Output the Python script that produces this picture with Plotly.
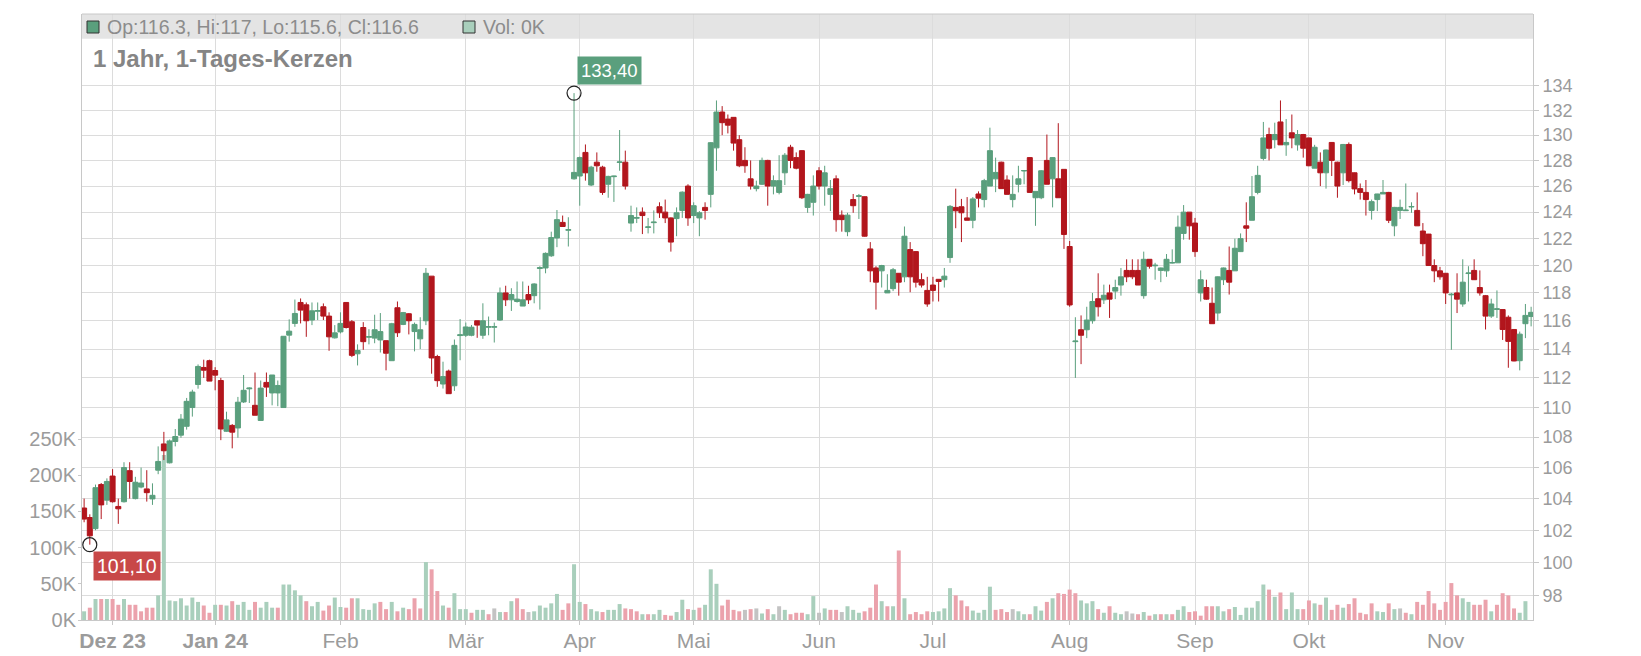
import math
import plotly.graph_objects as go

# ---------------- data ----------------
open_ = [103.4, 102.8, 102.1, 104.9, 103.9, 105.45, 103.5, 103.8, 105.8, 104.0,
         104.74, 104.62, 103.98, 105.83, 107.55, 106.31, 107.71, 108.13, 108.72, 109.98,
         111.55, 112.72, 113.19, 112.51, 111.82, 108.39, 108.78, 108.61, 110.36, 111.25,
         110.13, 109.11, 111.69, 110.97, 110.97, 109.98, 114.98, 115.81, 117.31, 117.14,
         116.05, 116.68, 117.0, 116.33, 114.79, 115.21, 117.31, 115.93, 113.67, 115.52,
         114.83, 114.77, 114.64, 114.59, 113.19, 116.93, 115.74, 116.5, 115.23, 114.72,
         116.0, 119.22, 113.48, 111.58, 112.47, 111.46, 114.95, 114.97, 114.97, 116.0,
         114.97, 115.54, 115.54, 116.05, 118.0, 117.5, 117.38, 117.05, 117.88, 117.8,
         119.78, 119.82, 120.72, 122.05, 123.22, 122.63, 126.56, 126.78, 128.63, 126.08,
         127.86, 127.47, 126.14, 126.73, 127.84, 127.86, 123.17, 123.54, 124.0, 122.84,
         123.2, 124.41, 124.0, 123.56, 123.51, 124.13, 126.0, 123.74, 123.56, 124.36,
         125.36, 128.99, 131.86, 131.29, 131.43, 129.64, 128.0, 126.56, 125.8, 126.14,
         128.0, 126.0, 125.51, 127.03, 129.04, 128.22, 128.77, 124.36, 124.75, 127.19,
         126.0, 125.36, 126.56, 123.77, 122.52, 124.96, 125.2, 125.18, 121.23, 119.82,
         119.61, 118.0, 118.31, 119.43, 119.17, 121.18, 121.03, 118.96, 118.18, 118.57,
         118.99, 118.96, 120.59, 124.36, 124.41, 123.56, 123.38, 125.39, 124.96, 126.0,
         126.56, 127.86, 126.47, 124.96, 126.14, 127.17, 128.22, 125.1, 125.1, 128.0,
         126.56, 126.56, 127.3, 121.41, 114.52, 115.36, 115.36, 116.0, 117.58, 117.5,
         118.0, 118.13, 118.57, 119.64, 119.64, 119.64, 117.8, 120.46, 119.98, 119.64,
         119.61, 120.18, 120.2, 122.39, 124.0, 123.17, 118.0, 118.39, 117.25, 116.55,
         118.96, 119.64, 119.61, 121.03, 122.96, 123.38, 125.51, 128.16, 130.05, 129.64,
         131.06, 129.23, 130.19, 129.23, 130.05, 129.78, 127.39, 127.86, 127.03, 129.42,
         127.86, 127.03, 129.26, 127.03, 125.8, 125.51, 124.13, 124.96, 125.39, 125.51,
         122.96, 124.13, 124.11, 124.39, 124.13, 122.57, 122.34, 120.0, 119.61, 119.43,
         117.86, 118.0, 117.2, 119.41, 119.64, 118.39, 117.8, 116.33, 116.81, 116.8,
         116.25, 115.38, 113.19, 115.79, 116.3]

high = [104.0, 103.0, 104.9, 105.0, 105.3, 105.9, 104.0, 106.35, 106.35, 105.4,
        106.0, 105.83, 104.98, 107.39, 108.35, 107.84, 108.54, 109.54, 110.63, 111.19,
        112.93, 113.26, 113.26, 112.74, 112.0, 109.7, 108.87, 110.7, 112.2, 111.35,
        112.37, 111.82, 112.37, 112.2, 111.82, 114.9, 116.1, 117.52, 117.6, 117.31,
        117.31, 117.31, 117.24, 116.6, 115.69, 116.6, 117.31, 116.05, 114.33, 115.9,
        115.4, 116.43, 116.55, 114.59, 115.85, 117.38, 116.63, 116.55, 115.87, 116.25,
        119.82, 119.22, 113.6, 113.12, 112.57, 114.67, 116.12, 115.87, 115.7, 116.0,
        117.25, 116.3, 115.87, 118.39, 118.52, 118.34, 118.83, 118.83, 118.52, 118.7,
        119.95, 120.97, 122.52, 124.16, 123.74, 123.61, 133.4, 128.3, 129.26, 127.58,
        128.63, 127.58, 126.8, 126.8, 130.41, 128.77, 124.49, 124.36, 124.36, 123.56,
        124.13, 124.75, 124.96, 123.6, 124.36, 125.59, 126.14, 124.75, 124.08, 124.75,
        129.45, 132.8, 132.34, 131.66, 131.45, 130.0, 129.04, 128.0, 126.42, 128.22,
        128.05, 126.83, 128.41, 128.58, 129.23, 128.63, 128.8, 125.4, 126.83, 127.47,
        127.58, 126.47, 126.83, 124.13, 123.95, 125.39, 125.39, 125.2, 121.74, 119.95,
        120.05, 119.36, 119.82, 119.45, 122.91, 121.74, 121.05, 119.43, 119.17, 119.17,
        119.0, 119.82, 124.54, 125.8, 125.01, 125.15, 125.15, 125.59, 126.56, 130.6,
        128.22, 127.9, 126.83, 126.83, 127.58, 127.25, 128.25, 125.6, 127.25, 130.05,
        128.25, 130.96, 127.3, 121.82, 116.25, 116.38, 117.0, 118.0, 119.43, 118.6,
        118.6, 118.96, 119.82, 120.46, 120.46, 120.46, 121.03, 120.46, 120.2, 119.85,
        120.85, 121.2, 123.74, 124.54, 124.0, 123.56, 119.64, 118.96, 118.39, 119.2,
        119.85, 121.41, 122.0, 122.39, 124.75, 126.78, 127.58, 131.06, 130.6, 131.0,
        132.8, 131.29, 131.66, 130.41, 130.1, 129.8, 129.23, 128.63, 128.85, 129.45,
        127.9, 129.3, 129.42, 127.05, 126.2, 126.47, 124.96, 125.4, 126.47, 125.55,
        124.4, 124.96, 126.2, 124.75, 125.51, 123.17, 122.35, 120.46, 119.9, 119.45,
        118.0, 119.43, 120.46, 119.95, 120.46, 119.64, 117.85, 117.58, 118.18, 116.8,
        116.38, 115.4, 115.23, 117.2, 117.0]

low = [102.5, 101.1, 102.0, 102.7, 103.6, 103.75, 102.4, 103.75, 104.0, 103.95,
       104.66, 103.81, 103.6, 105.57, 106.49, 106.27, 107.39, 107.96, 108.5, 109.37,
       111.26, 112.0, 111.78, 111.15, 107.8, 108.35, 107.26, 107.96, 110.29, 110.29,
       109.46, 109.11, 110.7, 110.13, 110.07, 109.98, 114.52, 115.57, 115.81, 114.86,
       115.69, 116.05, 116.05, 113.88, 114.74, 115.1, 115.45, 113.44, 112.86, 113.95,
       114.33, 114.41, 113.76, 112.52, 113.19, 114.85, 115.69, 115.03, 113.84, 114.0,
       115.69, 112.29, 111.39, 111.27, 110.92, 111.11, 113.22, 114.85, 114.9, 114.79,
       114.72, 114.97, 114.46, 116.0, 117.05, 116.7, 117.3, 117.05, 117.2, 117.25,
       116.8, 119.43, 120.64, 121.36, 122.91, 121.41, 126.5, 124.49, 126.42, 126.0,
       127.11, 125.32, 125.1, 124.78, 127.19, 125.73, 122.52, 123.17, 122.34, 122.39,
       122.39, 123.56, 123.17, 121.03, 122.18, 123.56, 122.96, 123.17, 122.18, 123.43,
       124.36, 127.19, 130.0, 130.14, 128.77, 127.47, 127.03, 125.73, 125.59, 126.08,
       124.49, 125.36, 125.36, 126.08, 127.39, 127.3, 125.0, 123.95, 123.74, 125.73,
       124.49, 124.08, 122.52, 122.52, 122.18, 123.95, 123.48, 122.15, 118.78, 116.8,
       118.39, 118.0, 118.13, 117.8, 118.78, 118.05, 118.39, 118.39, 117.0, 117.38,
       117.38, 118.39, 120.2, 122.78, 121.74, 123.38, 122.78, 124.36, 124.36, 126.0,
       125.53, 125.8, 125.36, 124.36, 125.51, 126.14, 125.5, 122.96, 124.99, 126.14,
       124.36, 125.1, 121.23, 117.0, 112.0, 112.95, 114.77, 115.79, 116.3, 117.2,
       116.2, 117.55, 117.8, 118.78, 119.0, 118.57, 117.58, 119.77, 118.96, 118.78,
       119.17, 120.15, 120.2, 121.92, 121.92, 120.64, 117.38, 117.5, 115.79, 116.0,
       118.57, 117.88, 119.6, 121.0, 121.74, 123.38, 125.36, 128.0, 128.0, 128.96,
       129.23, 128.36, 128.96, 128.77, 128.22, 127.55, 127.39, 126.0, 125.8, 126.78,
       125.1, 126.08, 126.28, 125.36, 124.96, 123.74, 123.43, 124.08, 125.39, 123.17,
       122.18, 123.48, 124.1, 123.95, 122.95, 120.69, 120.0, 118.78, 118.96, 117.2,
       113.95, 116.55, 117.0, 117.38, 118.95, 117.8, 115.38, 116.2, 116.2, 114.64,
       112.7, 113.15, 112.52, 114.77, 115.6]

close = [102.7, 101.65, 104.7, 103.6, 105.1, 103.8, 103.35, 106.0, 105.1, 105.05,
         105.0, 104.38, 104.21, 106.4, 107.1, 107.75, 108.04, 109.2, 110.4, 111.03,
         112.79, 112.53, 111.78, 112.19, 108.54, 109.15, 108.33, 110.34, 111.15, 111.3,
         109.46, 111.3, 111.37, 112.2, 111.48, 114.9, 115.26, 116.52, 116.76, 116.0,
         116.71, 116.72, 116.33, 114.86, 115.14, 115.81, 115.52, 113.56, 113.9, 114.52,
         114.88, 115.36, 115.23, 113.71, 115.79, 115.15, 116.58, 116.0, 115.74, 115.36,
         119.43, 113.38, 111.81, 112.09, 110.92, 114.26, 115.0, 115.56, 115.54, 115.69,
         116.0, 115.58, 115.58, 118.0, 117.5, 117.88, 117.55, 117.5, 117.5, 118.65,
         119.84, 120.9, 122.08, 123.43, 122.91, 122.67, 127.06, 128.22, 127.03, 127.47,
         127.58, 125.51, 126.75, 126.77, 127.88, 126.0, 123.74, 123.58, 123.74, 122.88,
         123.24, 123.95, 123.56, 121.74, 123.95, 125.53, 123.56, 124.49, 123.95, 124.13,
         129.4, 131.86, 131.0, 130.8, 129.37, 127.58, 127.58, 126.0, 126.0, 128.0,
         126.0, 126.42, 126.42, 128.41, 128.0, 127.39, 125.1, 125.36, 126.0, 126.0,
         127.03, 125.8, 123.43, 123.43, 123.77, 124.49, 125.25, 122.18, 119.61, 118.78,
         120.0, 118.18, 119.69, 118.78, 122.18, 119.17, 118.78, 118.57, 117.2, 118.18,
         118.83, 119.22, 124.44, 124.1, 123.95, 123.38, 125.01, 125.07, 126.42, 128.77,
         127.06, 125.8, 125.36, 125.36, 126.56, 127.21, 125.51, 125.59, 127.19, 126.14,
         128.22, 125.1, 122.31, 117.13, 114.56, 114.97, 116.05, 117.38, 117.0, 117.83,
         117.55, 118.39, 119.17, 119.17, 119.17, 118.57, 120.46, 119.95, 120.02, 119.82,
         120.46, 120.22, 122.86, 124.0, 122.96, 121.03, 118.96, 117.55, 115.79, 119.17,
         119.82, 118.78, 121.28, 122.0, 122.78, 125.18, 126.83, 129.78, 128.96, 130.05,
         129.23, 129.42, 129.78, 130.05, 128.96, 127.58, 129.04, 127.03, 128.82, 128.0,
         126.0, 129.26, 126.42, 125.78, 125.51, 124.96, 124.8, 125.39, 125.51, 123.38,
         124.36, 124.36, 124.15, 124.43, 122.96, 121.62, 120.0, 119.61, 119.17, 118.0,
         117.9, 117.55, 118.78, 119.45, 118.96, 118.0, 116.33, 117.2, 116.85, 115.38,
         114.54, 113.17, 115.05, 116.38, 116.6]

volume_k = [12, 17, 29, 29, 29, 29, 21, 29, 21, 21, 12, 17, 17, 34, 228, 27, 26, 30, 20, 31,
            25, 20, 10, 21, 21, 20, 26, 21, 25, 14, 25, 17, 25, 17, 17, 49, 49, 41, 34, 26,
            19, 25, 13, 20, 31, 18, 17, 30, 30, 15, 14, 23, 25, 15, 25, 12, 17, 15, 30, 16,
            80, 70, 40, 20, 17, 37, 15, 15, 10, 14, 14, 8, 16, 11, 11, 26, 30, 15, 11, 12,
            20, 17, 23, 36, 14, 23, 77, 25, 22, 15, 12, 11, 14, 14, 22, 16, 15, 12, 8, 8,
            8, 14, 7, 6, 11, 28, 15, 14, 17, 21, 70, 50, 20, 28, 14, 12, 14, 15, 16, 9,
            15, 8, 19, 14, 8, 10, 10, 8, 33, 10, 16, 14, 14, 11, 19, 14, 10, 12, 17, 49,
            26, 19, 19, 96, 30, 8, 11, 8, 12, 11, 12, 16, 44, 34, 27, 19, 13, 10, 14, 46,
            14, 15, 11, 15, 12, 8, 8, 19, 13, 25, 30, 37, 36, 42, 37, 27, 23, 26, 15, 10,
            19, 10, 8, 12, 9, 8, 11, 6, 8, 8, 8, 8, 14, 19, 11, 12, 6, 19, 19, 19,
            12, 15, 18, 7, 17, 17, 26, 49, 42, 32, 38, 15, 38, 15, 15, 27, 23, 21, 31, 14,
            21, 17, 22, 30, 10, 8, 23, 12, 11, 23, 15, 16, 10, 8, 25, 21, 40, 23, 14, 25,
            51, 34, 30, 25, 21, 21, 28, 12, 21, 37, 34, 16, 10, 26, 0]

month_pos = [5, 23, 45, 67, 87, 107, 129, 149, 173, 195, 215, 239]
month_labels = ["<b>Dez 23</b>", "<b>Jan 24</b>", "Feb", "Mär", "Apr", "Mai",
                "Jun", "Jul", "Aug", "Sep", "Okt", "Nov"]
price_ticks = list(range(98, 135, 2))
vol_ticks = [0, 50, 100, 150, 200, 250]
vol_labels = [f"{v}K" for v in vol_ticks]
title_text = "1 Jahr, 1-Tages-Kerzen"

# ---------------- styling ----------------
UP = "#5a9f7d"
DOWN = "#b2161d"
VOL_UP = "#a9cfbc"
VOL_DOWN = "#eba2ac"
VOL_FLAT = "#c3c3c3"
GRID = "#dcdcdc"
TXT = "#9b9b9b"
FONT = "Liberation Sans, Arial, sans-serif"

n = len(close)
idx = list(range(n))

vol_colors = []
for i in range(n):
    if i == 0 or close[i] > close[i - 1]:
        vol_colors.append(VOL_UP)
    elif close[i] < close[i - 1]:
        vol_colors.append(VOL_DOWN)
    else:
        vol_colors.append(VOL_FLAT)

i_hi = max(range(n), key=lambda k: high[k])
i_lo = min(range(n), key=lambda k: low[k])

fig = go.Figure()

fig.add_trace(go.Bar(x=idx, y=volume_k, marker=dict(color=vol_colors, line=dict(width=0)),
                     yaxis="y", hoverinfo="skip", showlegend=False))

fig.add_trace(go.Candlestick(
    x=idx, open=open_, high=high, low=low, close=close, yaxis="y2",
    increasing=dict(line=dict(color=UP, width=1), fillcolor=UP),
    decreasing=dict(line=dict(color=DOWN, width=1), fillcolor=DOWN),
    whiskerwidth=0, showlegend=False))

fig.add_trace(go.Scatter(x=[i_hi, i_lo], y=[high[i_hi], low[i_lo]], yaxis="y2",
                         mode="markers", showlegend=False,
                         marker=dict(symbol="circle-open", size=14,
                                     color="#222222", line=dict(width=1.2))))

W, H = 1641, 656
# intended on-screen plot box
PX0, PX1, PY0, PY1 = 82, 1533, 14, 620
PW, PH = PX1 - PX0, PY1 - PY0
# the page shows the figure 8px right / down of the window corner
OFF = 8
L = PX0 - OFF
R = W + OFF - PX1
T = PY0 - OFF
B = H + OFF - PY1


def px_x(p):
    return (p - PX0) / PW


def px_y(p):
    return (PY1 - p) / PH


y_lo, y_hi = 96.53, 140.04

fig.update_layout(
    width=W, height=H,
    margin=dict(l=L, r=R, t=T, b=B, pad=0, autoexpand=False),
    paper_bgcolor="white", plot_bgcolor="white",
    bargap=0.3, boxgap=0.12, boxgroupgap=0,
    font=dict(family=FONT, color=TXT),
    xaxis=dict(range=[-0.37, n - 0.67], tickvals=month_pos, ticktext=month_labels,
               showgrid=True, gridcolor=GRID, gridwidth=1, zeroline=False,
               showline=True, linecolor="#c8c8c8", linewidth=1,
               ticks="outside", ticklen=4, tickcolor="#c8c8c8", ticklabelstandoff=-2,
               tickfont=dict(size=21, color=TXT), rangeslider=dict(visible=False),
               fixedrange=True, automargin=False),
    yaxis=dict(range=[0, 837], tickvals=vol_ticks, ticktext=vol_labels, side="left",
               showgrid=False, zeroline=False, showline=True, linecolor="#c8c8c8",
               ticks="outside", ticklen=3, tickcolor="#c8c8c8", automargin=False,
               ticklabelstandoff=-2, tickfont=dict(size=20, color=TXT)),
    yaxis2=dict(type="log", range=[math.log10(y_lo), math.log10(y_hi)], overlaying="y",
                side="right", tickvals=price_ticks, ticktext=[str(t) for t in price_ticks],
                showgrid=True, gridcolor=GRID, gridwidth=1, zeroline=False,
                showline=True, linecolor="#c8c8c8", ticks="outside", ticklen=5,
                tickcolor="#c8c8c8", automargin=False, tickfont=dict(size=18, color=TXT)),
)

shapes = [
    dict(type="rect", xref="paper", yref="paper", x0=0, x1=1, y0=px_y(38.7), y1=1,
         fillcolor="#e4e4e4", line=dict(width=0), layer="below"),
    dict(type="line", xref="paper", yref="paper", x0=0, x1=1, y0=1, y1=1,
         line=dict(color="#c8c8c8", width=1)),
    dict(type="rect", xref="paper", yref="paper", x0=px_x(87), x1=px_x(99),
         y0=px_y(33), y1=px_y(21), fillcolor=UP, line=dict(color="#333333", width=1)),
    dict(type="rect", xref="paper", yref="paper", x0=px_x(463), x1=px_x(475),
         y0=px_y(33), y1=px_y(21), fillcolor=VOL_UP, line=dict(color="#333333", width=1)),
]


def fmt(v):
    return f"{v:g}"


last = n - 1
annotations = [
    dict(xref="paper", yref="paper", x=px_x(105), y=px_y(27), xanchor="left",
         yanchor="middle", showarrow=False,
         text=f"Op:{fmt(open_[last])}, Hi:{fmt(high[last])}, Lo:{fmt(low[last])}, Cl:{fmt(close[last])}",
         font=dict(size=19.5, color="#8c8c8c", family=FONT)),
    dict(xref="paper", yref="paper", x=px_x(481), y=px_y(27), xanchor="left",
         yanchor="middle", showarrow=False, text=f"Vol: {volume_k[last]}K",
         font=dict(size=19.5, color="#8c8c8c", family=FONT)),
    dict(xref="paper", yref="paper", x=px_x(91), y=px_y(58.5), xanchor="left",
         yanchor="middle", showarrow=False, text=f"<b>{title_text}</b>",
         font=dict(size=24, color="#858585", family=FONT)),
    dict(xref="x", yref="y2", x=i_hi, y=math.log10(high[i_hi]), xanchor="left",
         yanchor="bottom", xshift=3, yshift=8, showarrow=False,
         text=f"{high[i_hi]:.2f}".replace(".", ","), bgcolor=UP, borderpad=3,
         font=dict(size=18.5, color="white", family=FONT)),
    dict(xref="x", yref="y2", x=i_lo, y=math.log10(low[i_lo]), xanchor="left",
         yanchor="top", xshift=3, yshift=-6, showarrow=False,
         text=f"{low[i_lo]:.2f}".replace(".", ","), bgcolor="#c84848", borderpad=3,
         font=dict(size=19.5, color="white", family=FONT)),
]

fig.update_layout(shapes=shapes, annotations=annotations)

fig.write_html("out.html")
